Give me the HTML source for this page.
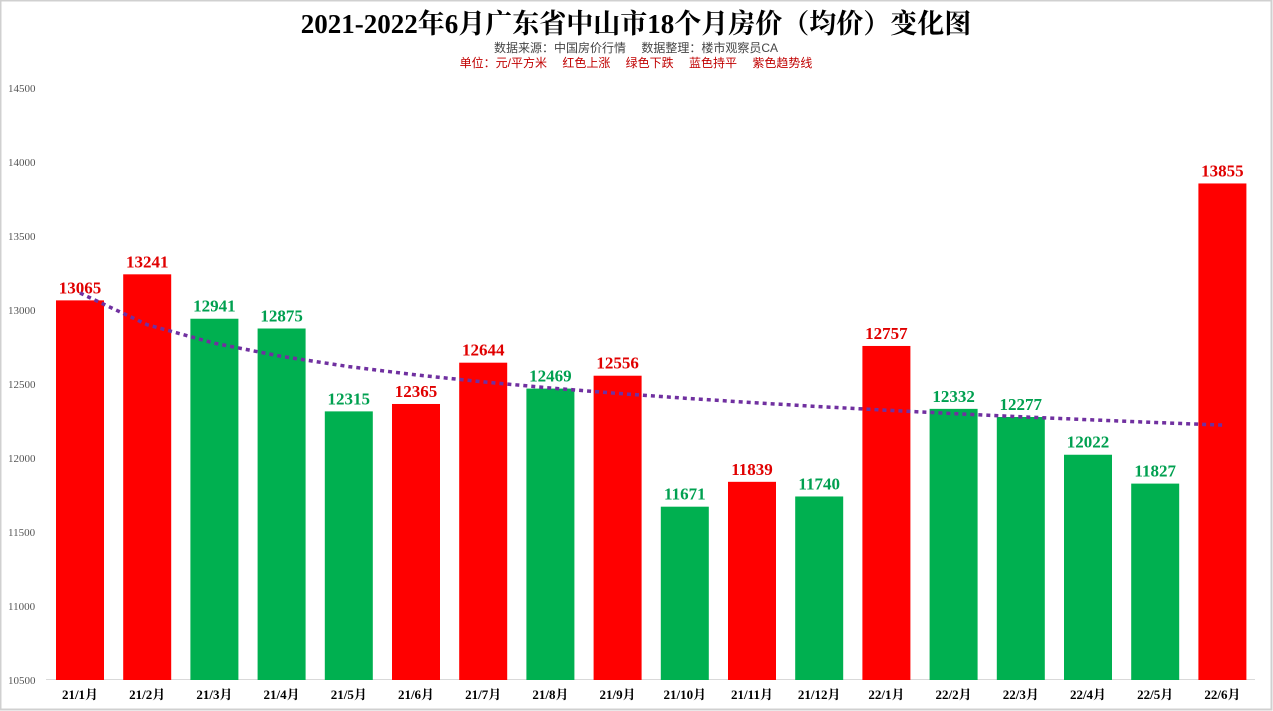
<!DOCTYPE html>
<html><head><meta charset="utf-8"><style>
html,body{margin:0;padding:0;background:#fff;}
svg{display:block}
</style></head><body>
<svg id="c" width="1273" height="711" xmlns="http://www.w3.org/2000/svg">
<rect x="0.5" y="0.5" width="1271" height="709" fill="#fff" stroke="#d0d0d0" stroke-width="2"/>
<text x="636" y="33" text-anchor="middle" font-family="Liberation Serif, 'Noto Serif CJK SC', serif" font-weight="bold" font-size="27" fill="#000">2021-2022年6月广东省中山市18个月房价（均价）变化图</text>
<text x="636" y="52" text-anchor="middle" font-family="Liberation Sans, 'Noto Sans CJK SC', sans-serif" font-size="12" fill="#444">数据来源：中国房价行情　 数据整理：楼市观察员CA</text>
<text x="636" y="67" text-anchor="middle" font-family="Liberation Sans, 'Noto Sans CJK SC', sans-serif" font-size="12" fill="#c00000">单位：元/平方米　 红色上涨　 绿色下跌　 蓝色持平　 紫色趋势线</text>
<line x1="46" y1="679.5" x2="1255" y2="679.5" stroke="#d9d9d9" stroke-width="1"/>
<g id="g"></g>
</svg>
<script>
(function(){
var vals=[13065,13241,12941,12875,12315,12365,12644,12469,12556,11671,11839,11740,12757,12332,12277,12022,11827,13855];
var labs=["21/1月","21/2月","21/3月","21/4月","21/5月","21/6月","21/7月","21/8月","21/9月","21/10月","21/11月","21/12月","22/1月","22/2月","22/3月","22/4月","22/5月","22/6月"];
var s="";
for(var t=10500;t<=14500;t+=500){var y=680-(t-10500)*0.148;
s+='<text x="8" y="'+(y+4)+'" font-family="Liberation Serif,serif" font-size="11" fill="#555">'+t+'</text>';}
var pts=[];
for(var i=0;i<18;i++){
 var x=56+i*67.2,v=vals[i],up=(i==0)||v>vals[i-1];
 var ty=680-(v-10500)*0.148;
 s+='<rect x="'+x+'" y="'+ty+'" width="48" height="'+(680-ty)+'" fill="'+(up?'#ff0000':'#00b050')+'"/>';
 s+='<text x="'+(x+24)+'" y="'+(ty-7)+'" text-anchor="middle" font-family="Liberation Serif,serif" font-weight="bold" font-size="17" fill="'+(up?'#e00000':'#00a050')+'">'+v+'</text>';
 s+='<text x="'+(x+24)+'" y="699" text-anchor="middle" font-family="Liberation Serif,\'Noto Serif CJK SC\',serif" font-weight="bold" font-size="13" fill="#000">'+labs[i]+'</text>';
 pts.push((x+24)+','+(293+45.7*Math.log(i+1)).toFixed(1));
}
s+='<polyline points="'+pts.join(' ')+'" fill="none" stroke="#7030a0" stroke-width="3.5" stroke-dasharray="4,4"/>';
document.getElementById('g').innerHTML=s;
})();
</script>
</body></html>
